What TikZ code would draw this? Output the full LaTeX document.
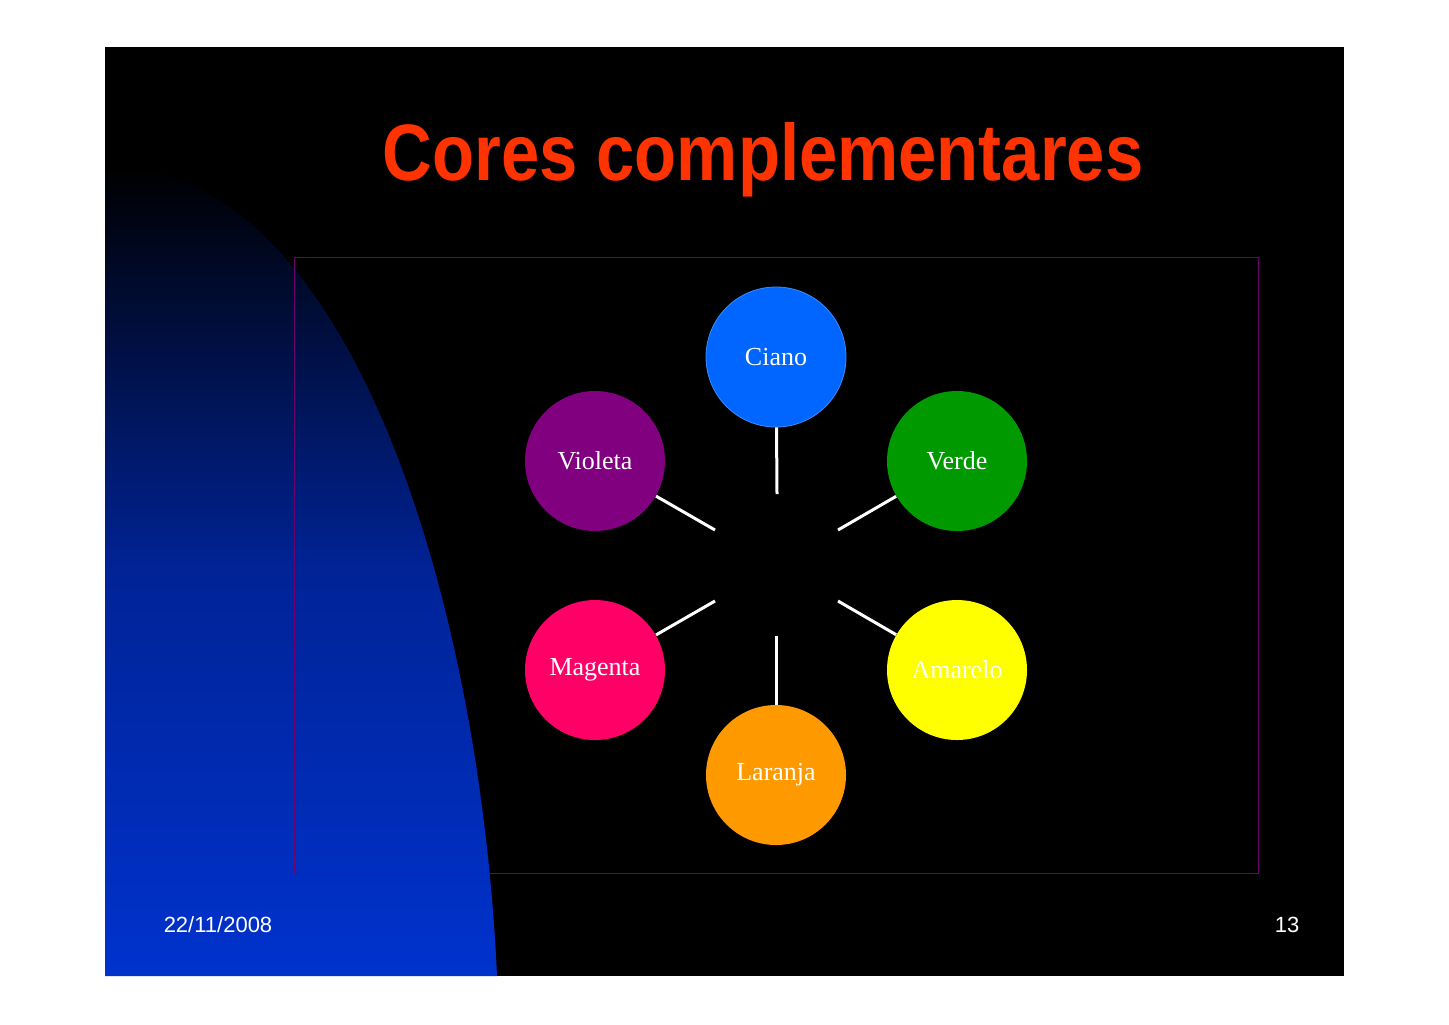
\documentclass[tikz,border=0pt]{standalone}
\usepackage{fontspec}
\setmainfont{Liberation Serif}
\newfontfamily\sansf{Liberation Sans}
\definecolor{framec}{RGB}{110,0,110}
\definecolor{blueA}{RGB}{0,50,205}
\definecolor{blueB}{RGB}{0,35,150}
\definecolor{titlec}{RGB}{255,51,0}
\definecolor{cianoc}{RGB}{0,102,255}
\definecolor{cianob}{RGB}{60,140,255}
\definecolor{verdec}{RGB}{0,153,0}
\definecolor{amareloc}{RGB}{255,255,0}
\definecolor{laranjac}{RGB}{255,153,0}
\definecolor{magentac}{RGB}{255,0,102}
\definecolor{violetac}{RGB}{128,0,128}
\begin{document}
\begin{tikzpicture}[x=0.5pt,y=-0.5pt,
  disc/.style={circle,minimum size=70pt,inner sep=0pt,text=white,font=\fontsize{13}{15}\selectfont},
  link/.style={white,line width=1.5pt}]
\useasboundingbox (0,0) rectangle (1449,1024);
\fill[white] (0,0) rectangle (1449,1024);
\fill[black] (105,47) rectangle (1344,976);
\shade[top color=black,bottom color=blueA,middle color=blueB]
  (105,976) -- (105,165) .. controls (350,165) and (480,600) .. (497,976) -- cycle;
\draw[framec,line width=0.4pt] (294,257) rectangle (1258,873);
\node[font=\sansf\bfseries\fontsize{40}{44}\selectfont,text=titlec,xscale=0.86] (title) at (763,160) {Cores complementares};
\node[disc,fill=cianoc,draw=cianob] (c) at (776,357) {Ciano};
\node[disc,fill=verdec] (v) at (957,461) {Verde};
\node[disc,fill=amareloc] (a) at (957,670) {Amarelo};
\node[disc,fill=laranjac] (l) at (776,775) {Laranja};
\node[disc,fill=magentac] (m) at (595,670) {Magenta};
\node[disc,fill=violetac] (vi) at (595,461) {Violeta};
\coordinate (ec) at (777,494);
\coordinate (ev) at (838,530);
\coordinate (ea) at (838,601);
\coordinate (el) at (776,636);
\coordinate (em) at (715,601);
\coordinate (evi) at (715,530);
\draw[link] (c) -- (ec);
\draw[link] (v) -- (ev);
\draw[link] (a) -- (ea);
\draw[link] (l) -- (el);
\draw[link] (m) -- (em);
\draw[link] (vi) -- (evi);
\node[text=white,font=\sansf\fontsize{11}{13}\selectfont] (date) at (218,925) {22/11/2008};
\node[text=white,font=\sansf\fontsize{11}{13}\selectfont] (pg) at (1287,925) {13};
\end{tikzpicture}
\end{document}
